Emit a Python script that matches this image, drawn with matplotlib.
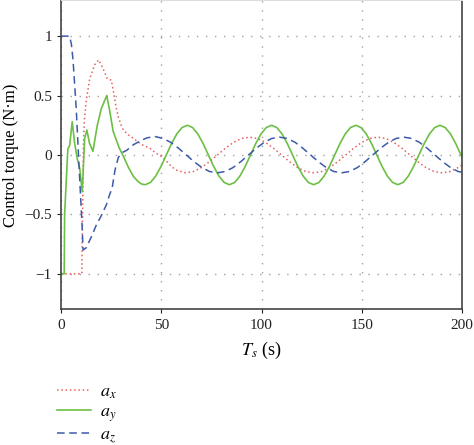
import numpy as np
import matplotlib
matplotlib.use("Agg")
import matplotlib.pyplot as plt

plt.rcParams["font.family"] = ["Liberation Serif", "DejaVu Serif"]
plt.rcParams["mathtext.fontset"] = "stix"

# --- a_x (red, dotted) ---
t_ax = [0, 10.4, 11.2, 11.6, 12.6, 14.3, 16.8, 18.8, 20.9, 23.1, 25.1, 26.3, 27.5, 28.6,
        30, 31.1, 33.5, 36.1, 40, 44.4, 47, 50.2, 53, 55.2, 58,
        62, 66, 70, 74, 78, 82, 86, 90, 94, 98, 102, 106, 110, 114, 118, 122,
        126, 130, 134, 138, 142, 146, 150, 154, 158, 162, 166, 170, 174, 178,
        182, 186, 190, 194, 198, 200]
v_ax = [-1, -1, 0.1, 0.28, 0.46, 0.64, 0.76, 0.8, 0.73, 0.64, 0.63, 0.52, 0.4, 0.32,
        0.25, 0.21, 0.17, 0.14, 0.09, 0.056, 0.02, -0.014, -0.06, -0.1, -0.13,
        -0.15, -0.139, -0.106, -0.057, 0, 0.057, 0.106, 0.139, 0.15, 0.139, 0.106, 0.057, 0, -0.057, -0.106, -0.139,
        -0.15, -0.139, -0.106, -0.057, 0, 0.057, 0.106, 0.139, 0.15, 0.139, 0.106, 0.057, 0, -0.057,
        -0.106, -0.139, -0.15, -0.139, -0.106, -0.085]

# --- a_y (green, solid) ---
t_ay = [0, 1.6, 1.8, 3.4, 4.3, 5.6, 6.8, 8.1, 9.3, 10.6, 11.8, 12.9, 14.2, 15.9, 18.1,
        20.1, 22.8, 24.2, 26, 27.5, 29, 31.1, 33.5, 36.1, 38.5, 40.3,
        42, 44.63, 47.25, 49.88, 52.5, 55.13, 57.75, 60.38, 63, 65.63, 68.25, 70.88, 73.5, 76.13, 78.75, 81.38,
        84, 86.63, 89.25, 91.88, 94.5, 97.13, 99.75, 102.38, 105, 107.63, 110.25, 112.88, 115.5, 118.13, 120.75, 123.38,
        126, 128.63, 131.25, 133.88, 136.5, 139.13, 141.75, 144.38, 147, 149.63, 152.25, 154.88, 157.5, 160.13, 162.75, 165.38,
        168, 170.63, 173.25, 175.88, 178.5, 181.13, 183.75, 186.38, 189, 191.63, 194.25, 196.88, 199.5, 200]
v_ay = [-1, -1, -0.5, 0.05, 0.08, 0.28, 0.1, -0.03, -0.11, -0.31, 0.14, 0.21, 0.1, 0.03, 0.25,
        0.39, 0.5, 0.38, 0.2, 0.13, 0.06, -0.01, -0.1, -0.18, -0.225, -0.245,
        -0.25, -0.231, -0.177, -0.096, 0, 0.096, 0.177, 0.231, 0.25, 0.231, 0.177, 0.096, 0, -0.096, -0.177, -0.231,
        -0.25, -0.231, -0.177, -0.096, 0, 0.096, 0.177, 0.231, 0.25, 0.231, 0.177, 0.096, 0, -0.096, -0.177, -0.231,
        -0.25, -0.231, -0.177, -0.096, 0, 0.096, 0.177, 0.231, 0.25, 0.231, 0.177, 0.096, 0, -0.096, -0.177, -0.231,
        -0.25, -0.231, -0.177, -0.096, 0, 0.096, 0.177, 0.231, 0.25, 0.231, 0.177, 0.096, 0, -0.02]

# --- a_z (blue, dashed) ---
t_az = [0, 4.3, 5.2, 6, 7.6, 8.8, 9.8, 10.5, 11, 12.6, 15.1, 17.6, 19.8, 22.6, 24.3, 25.5,
        26.9, 28.6, 30.5, 32.8, 36, 39.4, 43,
        47, 50.9, 54.8, 58.6, 62.5, 66.4, 70.3, 74.1, 78, 81.9, 85.8, 89.6, 93.5, 97.4, 101.3, 105.1,
        109, 112.9, 116.8, 120.6, 124.5, 128.4, 132.3, 136.1, 140, 143.9, 147.8, 151.6, 155.5, 159.4,
        163.3, 167.1, 171, 174.9, 178.8, 182.6, 186.5, 190.4, 194.3, 198.1, 200]
v_az = [1, 1, 0.93, 0.8, 0.39, -0.03, -0.36, -0.59, -0.8, -0.78, -0.69, -0.59, -0.52, -0.42, -0.33, -0.28,
        -0.13, -0.02, 0.02, 0.04, 0.085, 0.118, 0.145,
        0.155, 0.139, 0.106, 0.057, 0, -0.057, -0.106, -0.139, -0.15, -0.139, -0.106, -0.057, 0, 0.057, 0.106, 0.139,
        0.15, 0.139, 0.106, 0.057, 0, -0.057, -0.106, -0.139, -0.15, -0.139, -0.106, -0.057, 0, 0.057,
        0.106, 0.139, 0.15, 0.139, 0.106, 0.057, 0, -0.057, -0.106, -0.139, -0.145]

x_ticks = [0, 50, 100, 150, 200]
y_ticks = [-1, -0.5, 0, 0.5, 1]
y_tick_labels = ["\u22121", "\u22120.5", "0", "0.5", "1"]

fig = plt.figure(figsize=(4.74, 4.45), dpi=100)
ax = fig.add_axes([0.1287, 0.3045, 0.846, 0.6944])

l1, = ax.plot(t_ax, v_ax, color="#e8605f", linestyle=(0, (1, 1.8)), linewidth=1.1, label="$a_x$")
l2, = ax.plot(t_ay, v_ay, color="#6cbf45", linestyle="-", linewidth=1.2, label="$a_y$")
l3, = ax.plot(t_az, v_az, color="#3c5aa8", linestyle=(0, (5, 3)), linewidth=1.1, label="$a_z$")

ax.set_xlim(0, 200)
ax.set_ylim(-1.3, 1.3)
ax.set_xticks(x_ticks)
ax.set_yticks(y_ticks)
ax.set_yticklabels(y_tick_labels)
ax.tick_params(labelsize=11, length=3, width=0.8, colors="#222222", direction="out")
ax.grid(True, color="#a0a0a0", linestyle=(0, (1, 5.5)), linewidth=1.0)

ax.spines["top"].set_color("#dddddd")
for s in ["left", "right", "bottom"]:
    ax.spines[s].set_color("#444444")
    ax.spines[s].set_linewidth(1.2)

ax.set_xlabel("$T_s$ (s)", fontsize=13, labelpad=6)
ax.set_ylabel("Control torque (N\u00b7m)", fontsize=12, labelpad=4)

fig.legend(handles=[l1, l2, l3], loc="upper left", bbox_to_anchor=(0.105, 0.155),
           frameon=False, fontsize=13, handlelength=1.9, handletextpad=0.5,
           labelspacing=0.15, borderaxespad=0)

fig.savefig("out.png", dpi=100)
